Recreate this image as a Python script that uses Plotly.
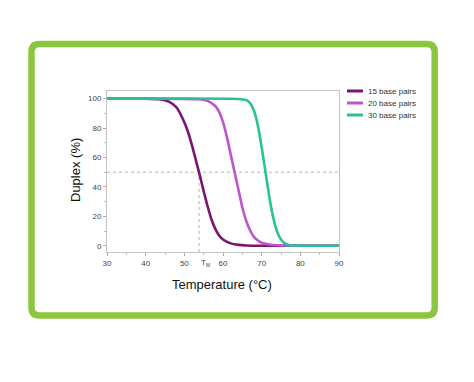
import plotly.graph_objects as go

# ---- data ----
temp_15 = [30, 40, 44, 46, 48, 50, 51, 52, 53, 54, 55, 56, 57, 58, 59, 60, 62, 64, 66, 70, 90]
dup_15 = [100, 100, 99.5, 98, 94, 84, 77, 68, 58, 48, 37, 27, 18, 11.5, 7, 4.2, 1.6, 0.6, 0.2, 0, 0]

temp_20 = [30, 54, 56, 58, 59, 60, 61, 62, 63, 64, 65, 66, 67, 68, 69, 70, 72, 74, 78, 90]
dup_20 = [100, 99.6, 98.5, 95, 91, 84, 74, 62, 50, 38, 26, 17, 10.5, 6, 3.6, 2, 0.8, 0.3, 0, 0]

temp_30 = [30, 64, 66, 67, 68, 69, 70, 71, 72, 73, 74, 75, 76, 77, 78, 90]
dup_30 = [100, 99.8, 99, 97, 92, 82, 67, 50, 33, 19, 9.5, 4.2, 1.6, 0.5, 0.1, 0]

series_names = ["15 base pairs", "20 base pairs", "30 base pairs"]
series_colors = ["#7a1470", "#bf55cc", "#27c296"]

tm_value = 53.8
half_value = 50
x_ticks = [30, 40, 50, 60, 70, 80, 90]
y_ticks = [0, 20, 40, 60, 80, 100]

W, H = 474, 382
ML, MR, MT, MB = 107, 135, 91, 130
PW, PH = W - ML - MR, H - MT - MB
Y_LO, Y_HI = -4.27, 105.2


def px_x(p):
    return (p - ML) / PW


def px_y(p):
    return (H - MB - p) / PH


fig = go.Figure()
for xs, ys, name, col in zip([temp_15, temp_20, temp_30], [dup_15, dup_20, dup_30],
                             series_names, series_colors):
    fig.add_trace(go.Scatter(x=xs, y=ys, mode="lines", name=name,
                             line=dict(color=col, width=2.6, shape="spline", smoothing=0.6),
                             showlegend=False, hoverinfo="skip"))

# dashed guide lines
fig.add_shape(type="line", xref="paper", yref="y", x0=0, x1=1, y0=half_value, y1=half_value,
              line=dict(color="#b4b4b4", width=1, dash="3px,3px"), layer="below")
fig.add_shape(type="line", xref="x", yref="paper", x0=tm_value, x1=tm_value, y0=0,
              y1=(half_value - Y_LO) / (Y_HI - Y_LO),
              line=dict(color="#b4b4b4", width=1, dash="3px,3px"), layer="below")

# green rounded frame
x0, x1 = px_x(31.5), px_x(434.7)
y0, y1 = px_y(315.5), px_y(44)
rx, ry = 8 / PW, 8 / PH
path = (f"M {x0+rx},{y1} L {x1-rx},{y1} Q {x1},{y1} {x1},{y1-ry} "
        f"L {x1},{y0+ry} Q {x1},{y0} {x1-rx},{y0} L {x0+rx},{y0} "
        f"Q {x0},{y0} {x0},{y0+ry} L {x0},{y1-ry} Q {x0},{y1} {x0+rx},{y1} Z")
fig.add_shape(type="path", xref="paper", yref="paper", path=path,
              line=dict(color="#8cc63f", width=6.5))

# custom legend
legend_rows = [91, 103, 115]
for name, col, ry_ in zip(series_names, series_colors, legend_rows):
    fig.add_shape(type="line", xref="paper", yref="paper",
                  x0=px_x(347), x1=px_x(363), y0=px_y(ry_), y1=px_y(ry_),
                  line=dict(color=col, width=3))
    fig.add_annotation(xref="paper", yref="paper", x=px_x(366), y=px_y(ry_),
                       text=name, showarrow=False, xanchor="left", yanchor="middle",
                       font=dict(family="Liberation Sans, Arial", size=8, color="#333333"))

# Tm label
fig.add_annotation(xref="x", yref="paper", x=55.4, y=px_y(263),
                   text="T<sub><span style='font-size:5px'>M</span></sub>",
                   showarrow=False, xanchor="center", yanchor="middle",
                   font=dict(family="Liberation Sans, Arial", size=8, color="#444444"))

# axis titles
fig.add_annotation(xref="paper", yref="paper", x=px_x(222), y=px_y(284),
                   text="Temperature (°C)", showarrow=False, xanchor="center", yanchor="middle",
                   font=dict(family="Liberation Sans, Arial", size=13, color="#111111"))
fig.add_annotation(xref="paper", yref="paper", x=px_x(75), y=px_y(170),
                   text="Duplex (%)", showarrow=False, textangle=-90,
                   xanchor="center", yanchor="middle",
                   font=dict(family="Liberation Sans, Arial", size=13, color="#111111"))

axis_common = dict(showgrid=False, zeroline=False, showline=True, linecolor="#c4c4c4",
                   linewidth=1, mirror=True, ticks="outside", ticklen=3, tickcolor="#aaaaaa",
                   tickfont=dict(family="Liberation Sans, Arial", size=8, color="#444444"))

fig.update_xaxes(range=[30, 90], tickvals=x_ticks, ticktext=[str(v) for v in x_ticks],
                 minor=dict(dtick=5, ticks="outside", ticklen=2, tickcolor="#bbbbbb"),
                 **axis_common)
fig.update_yaxes(range=[Y_LO, Y_HI], tickvals=y_ticks, ticktext=[str(v) for v in y_ticks],
                 minor=dict(dtick=10, ticks="outside", ticklen=2, tickcolor="#bbbbbb"),
                 **axis_common)

fig.update_layout(width=W, height=H, margin=dict(l=ML, r=MR, t=MT, b=MB),
                  paper_bgcolor="white", plot_bgcolor="white", showlegend=False)

fig.write_html("out.html")
